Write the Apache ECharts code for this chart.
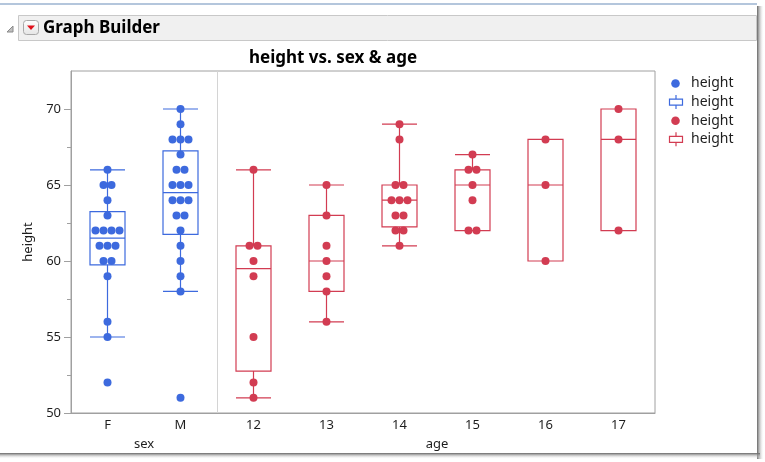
<!DOCTYPE html>
<html>
<head>
<meta charset="utf-8">
<script src="https://cdn.jsdelivr.net/npm/echarts@6/dist/echarts.min.js"></script>
<style>
html, body { margin: 0; padding: 0; background: #fff; }
#chart { width: 765px; height: 462px; }
</style>
</head>
<body>
<div id="chart"></div>
<script>
// categories
const sexCats = ['F', 'M'];
const ageCats = ['12', '13', '14', '15', '16', '17'];
// height by sex
const heightF = [59, 61, 55, 66, 52, 60, 61, 56, 62, 65, 63, 62, 61, 62, 64, 65, 60, 62];
const heightM = [60, 61, 51, 65, 63, 58, 59, 63, 64, 65, 64, 68, 64, 69, 67, 65, 66, 62, 66, 68, 68, 70];
// height by age
const height12 = [59, 61, 55, 66, 52, 60, 61, 51];
const height13 = [60, 61, 56, 65, 63, 58, 59];
const height14 = [61, 62, 65, 63, 62, 63, 64, 65, 64, 68, 64, 69];
const height15 = [62, 64, 67, 65, 66, 62, 66];
const height16 = [65, 60, 68];
const height17 = [62, 68, 70];
// y axis ticks
const yTicks = [50, 55, 60, 65, 70];
const yMinorTicks = [52.5, 57.5, 62.5, 67.5];

const BLUE = '#3d6ade';
const RED = '#d23c52';
const AXIS = '#a0a0a0';
const TEXT = '#1e1e1e';
const FONT = '"Noto Sans", "DejaVu Sans", sans-serif';

const cats = sexCats.concat(ageCats);
const groups = [heightF, heightM, height12, height13, height14, height15, height16, height17];
const colorOf = (i) => (i < sexCats.length ? BLUE : RED);

// quantile like JMP: position (n+1)p
function quantile(sorted, p) {
    const pos = (sorted.length + 1) * p;
    if (pos <= 1) return sorted[0];
    if (pos >= sorted.length) return sorted[sorted.length - 1];
    const lo = Math.floor(pos);
    return sorted[lo - 1] + (pos - lo) * (sorted[lo] - sorted[lo - 1]);
}

function boxStats(values) {
    const s = values.slice().sort((a, b) => a - b);
    const q1 = quantile(s, 0.25);
    const med = quantile(s, 0.5);
    const q3 = quantile(s, 0.75);
    const iqr = q3 - q1;
    const lowW = s.find(v => v >= q1 - 1.5 * iqr);
    const highW = s.slice().reverse().find(v => v <= q3 + 1.5 * iqr);
    return [lowW, q1, med, q3, highW];
}

const boxData = groups.map((g, i) => ({
    value: boxStats(g),
    itemStyle: { borderColor: colorOf(i) }
}));

// points, duplicates side by side
const DOT_GAP = 8;
const pointData = [];
groups.forEach((g, i) => {
    const counts = {};
    g.forEach(v => { counts[v] = (counts[v] || 0) + 1; });
    Object.keys(counts).forEach(k => {
        const n = counts[k];
        for (let j = 0; j < n; j++) {
            pointData.push({
                value: [i, Number(k)],
                symbolOffset: [(j - (n - 1) / 2) * DOT_GAP, 0],
                itemStyle: { color: colorOf(i) }
            });
        }
    });
});

// legend + frame drawn as graphic
const legendItems = [
    { kind: 'dot', color: BLUE },
    { kind: 'box', color: BLUE },
    { kind: 'dot', color: RED },
    { kind: 'box', color: RED }
];
const legendGraphic = [];
legendItems.forEach((it, i) => {
    const y = 83.5 + i * 18.6;
    if (it.kind === 'dot') {
        legendGraphic.push({ type: 'circle', shape: { cx: 675.5, cy: y, r: 4.3 }, style: { fill: it.color } });
    } else {
        legendGraphic.push({ type: 'rect', shape: { x: 669.5, y: y - 3, width: 13, height: 6 }, style: { fill: '#fff', stroke: it.color, lineWidth: 1.2 } });
        legendGraphic.push({ type: 'line', shape: { x1: 676, y1: y - 7, x2: 676, y2: y - 3 }, style: { stroke: it.color, lineWidth: 1.2 } });
        legendGraphic.push({ type: 'line', shape: { x1: 676, y1: y + 3, x2: 676, y2: y + 7 }, style: { stroke: it.color, lineWidth: 1.2 } });
    }
    legendGraphic.push({
        type: 'text', x: 691, y: y,
        style: { text: 'height', fill: TEXT, font: '14px ' + FONT, textVerticalAlign: 'middle' }
    });
});

const frameGraphic = [
    // window top line
    { type: 'rect', shape: { x: 0, y: 3, width: 757, height: 2 }, style: { fill: '#b4c6dc' } },
    // shadow right / bottom
    {
        type: 'rect', shape: { x: 757, y: 6, width: 7, height: 453 },
        style: { fill: new echarts.graphic.LinearGradient(0, 0, 1, 0, [{ offset: 0, color: '#666' }, { offset: 1, color: 'rgba(255,255,255,0)' }]) }
    },
    {
        type: 'rect', shape: { x: 0, y: 453, width: 760, height: 6 },
        style: { fill: new echarts.graphic.LinearGradient(0, 0, 0, 1, [{ offset: 0, color: '#666' }, { offset: 1, color: 'rgba(255,255,255,0)' }]) }
    },
    // header bar
    { type: 'rect', shape: { x: 18.5, y: 15.5, width: 738, height: 25 }, style: { fill: '#f0f0f0', stroke: '#c8c8c8', lineWidth: 1 } },
    { type: 'polygon', shape: { points: [[13, 26], [13, 32], [7, 32]] }, style: { fill: '#c0c0c0', stroke: '#8a8a8a', lineWidth: 1 } },
    {
        type: 'rect', shape: { x: 23.5, y: 20.5, width: 15, height: 14, r: 3 },
        style: { fill: new echarts.graphic.LinearGradient(0, 0, 0, 1, [{ offset: 0, color: '#ffffff' }, { offset: 1, color: '#e4e4e4' }]), stroke: '#a8a8a8', lineWidth: 1 }
    },
    { type: 'polygon', shape: { points: [[27, 25.5], [35, 25.5], [31, 30]] }, style: { fill: '#e0101a' } },
    {
        type: 'text', x: 43, y: 28,
        style: { text: 'Graph Builder', fill: '#000', font: 'bold 17px ' + FONT, textVerticalAlign: 'middle' }
    },
    // chart title
    {
        type: 'text', x: 333, y: 58,
        style: { text: 'height vs. sex & age', fill: '#000', font: 'bold 17px ' + FONT, textAlign: 'center', textVerticalAlign: 'middle' }
    },
    // x group titles
    {
        type: 'text', x: 144, y: 444,
        style: { text: 'sex', fill: TEXT, font: '13px ' + FONT, textAlign: 'center', textVerticalAlign: 'middle' }
    },
    {
        type: 'text', x: 437, y: 444,
        style: { text: 'age', fill: TEXT, font: '13px ' + FONT, textAlign: 'center', textVerticalAlign: 'middle' }
    }
];

const chart = echarts.init(document.getElementById('chart'));
chart.setOption({
    animation: false,
    backgroundColor: '#fff',
    textStyle: { fontFamily: FONT },
    grid: { left: 71, right: 110, top: 71, bottom: 49, show: true, borderColor: AXIS, borderWidth: 1 },
    xAxis: [{
        type: 'category',
        data: cats,
        boundaryGap: true,
        axisLine: { lineStyle: { color: AXIS } },
        axisTick: { show: false },
        axisLabel: { color: TEXT, fontSize: 13, margin: 6 },
        splitLine: { show: false }
    }, {
        // hidden helper axis for the sex | age divider
        type: 'value', min: 0, max: cats.length, show: false
    }],
    yAxis: [{
        type: 'value', min: 50, max: 72.5,
        name: 'height', nameLocation: 'middle', nameGap: 34,
        nameTextStyle: { color: TEXT, fontSize: 13 },
        axisLine: { show: true, lineStyle: { color: AXIS } },
        axisTick: { show: true, length: 7, customValues: yTicks, lineStyle: { color: AXIS } },
        axisLabel: { customValues: yTicks, color: TEXT, fontSize: 13, margin: 10 },
        splitLine: { show: false }
    }, {
        type: 'value', min: 50, max: 72.5, position: 'left',
        axisLine: { show: false },
        axisTick: { show: true, length: 4, customValues: yMinorTicks, lineStyle: { color: AXIS } },
        axisLabel: { show: false },
        splitLine: { show: false }
    }],
    series: [{
        type: 'scatter',
        xAxisIndex: 1,
        data: [],
        silent: true,
        markLine: {
            silent: true,
            symbol: 'none',
            label: { show: false },
            lineStyle: { color: '#d4d4d4', type: 'solid', width: 1 },
            data: [{ xAxis: sexCats.length }]
        }
    }, {
        type: 'boxplot',
        data: boxData,
        boxWidth: [35, 35],
        itemStyle: { color: 'rgba(0,0,0,0)', borderWidth: 1.2 },
        emphasis: { disabled: true },
        silent: true
    }, {
        type: 'scatter',
        data: pointData,
        symbolSize: 8,
        itemStyle: { opacity: 1 },
        silent: true
    }],
    graphic: frameGraphic.concat(legendGraphic)
});
</script>
</body>
</html>
